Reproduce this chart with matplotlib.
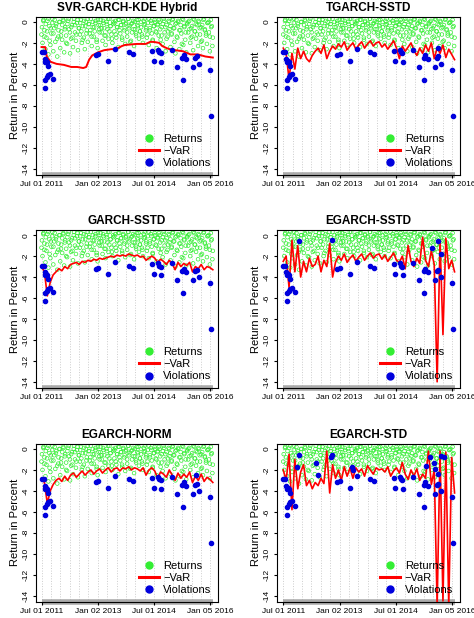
import matplotlib
matplotlib.use("Agg")
import matplotlib.pyplot as plt
import matplotlib.transforms as mtransforms
from matplotlib.lines import Line2D
import numpy as np

plt.rcParams['font.family'] = ['Liberation Sans', 'DejaVu Sans']

# ---- data (trading day index 0..1150) ----
tick_pos = [0, 378, 756, 1134]
tick_labels = ["Jul 01 2011", "Jan 02 2013", "Jul 01 2014", "Jan 05 2016"]

returns = [
    -1.2, -2.0, 0.2, -0.8, -2.6, -1.5, 0.1, -3.1, -0.4, -2.2, -1.1, 0.3, -2.8, -0.6, -1.9,
    -0.2, -3.3, -1.4, 0.0, -2.5, -0.9, -1.7, 0.2, -2.9, -0.5, -1.3, -2.1, 0.1, -0.7, -3.0,
    -1.6, -0.3, -2.4, 0.3, -1.0, -1.8, -0.1, -2.7, -0.6, -1.2, 0.2, -2.0, -0.4, -1.5, -2.6,
    0.0, -0.8, -1.9, -0.2, -1.1, 0.3, -2.3, -0.5, -1.4, -0.9, 0.1, -1.7, -2.5, -0.3, -1.0,
    0.2, -0.6, -1.8, -0.1, -1.3, -2.2, 0.0, -0.7, -1.6, 0.3, -0.4, -1.2, -2.0, -0.2, -0.9,
    0.1, -1.5, -0.5, -2.4, 0.2, -1.1, -0.3, -1.7, 0.0, -0.8, -2.1, -0.1, -1.4, 0.3, -0.6,
    -1.9, -0.2, -1.0, 0.1, -2.3, -0.7, -1.3, 0.2, -0.4, -1.6, -0.9, 0.0, -1.2, -2.0, -0.3,
    0.3, -0.8, -1.5, -0.1, -2.2, -0.6, 0.1, -1.1, -1.8, -0.4, 0.2, -0.9, -2.5, -0.2, -1.3,
    0.0, -1.7, -0.5, -2.1, 0.3, -1.0, -2.8, -0.3, -1.4, 0.1, -0.7, -2.4, -1.2, 0.2, -0.6,
    -1.9, -3.0, -0.1, -1.5, 0.0, -2.6, -0.8, -1.1, 0.3, -2.2, -0.4, -1.7, -2.9, -0.2, -1.0,
    0.1, -2.0, -0.6, -1.4, -2.7, 0.2, -0.9, -1.6, -0.3, -2.3, 0.0, -1.2, -0.5, -1.8, -2.5,
    0.3, -0.7, -1.3, -2.1, -0.1, -1.0, -2.8, 0.2, -0.4, -1.5,
]
returns_b = [
    -0.5, 0.1, -1.4, -0.2, -0.9, 0.3, -1.8, -0.6, -0.1, -1.1, 0.2, -0.4, -1.6, -0.8, 0.0,
    -1.3, -0.3, 0.1, -0.7, -2.0, -0.2, 0.3, -1.0, -0.5, -1.5, 0.0, -0.3, -1.2, 0.2, -0.6,
    -0.1, -0.9, -1.7, 0.1, -0.4, -1.1, 0.3, -0.2, -0.8, -1.4, 0.0, -0.5, -0.1, -1.9, 0.2,
    -0.7, -0.3, -1.0, 0.1, -0.6, -1.3, -0.2, 0.3, -0.9, -0.4, -1.6, 0.0, -0.1, -1.2, -0.5,
    0.2, -0.8, -0.3, -1.5, 0.1, -0.6, -0.2, -1.0, 0.3, -0.4, -1.8, -0.1, -0.7, 0.0, -1.1,
    -0.3, 0.2, -0.9, -0.5, -1.4, 0.1, -0.2, -0.6, -1.2, 0.3, -0.8, -0.1, -1.7, -0.4, 0.0,
    -1.0, -0.3, 0.2, -0.7, -1.3, -0.2, 0.1, -0.5, -1.6, -0.9, 0.0, -0.4, -1.1, 0.3, -0.6,
    -0.2, -1.4, 0.1, -0.8, -0.3, -2.1, 0.2, -0.5, -1.0, -0.1, 0.0, -0.7, -1.5, -0.4, 0.3,
    -0.9, -0.2, -1.2, 0.1, -0.6, -1.9, -0.3, 0.2, -0.8, -1.1, -0.1, 0.0, -1.4, -0.5, -2.3,
]

viol_idx = [0, 15, 21, 25, 32, 40, 46, 25, 36, 46, 57, 25, 78, 363, 380, 447, 494, 585,
            612, 743, 753, 785, 789, 800, 802, 874, 912, 943, 947, 954, 971, 1017, 1032,
            1042, 1059, 1133, 1139]
viol_val = [-2.9, -2.9, -3.5, -3.8, -3.7, -3.8, -4.2, -5.5, -5.3, -5.1, -5.0, -6.3, -5.4,
            -3.2, -3.1, -3.7, -2.6, -2.9, -3.1, -2.8, -3.7, -2.7, -2.9, -3.0, -3.8, -2.7,
            -4.3, -3.4, -5.5, -3.2, -3.5, -4.3, -3.4, -3.3, -4.0, -4.6, -9.0]

hyb_idx = [0, 25, 35, 60, 100, 150, 200, 240, 280, 300, 320, 340, 380, 420, 470, 500, 540,
           560, 640, 700, 730, 750, 790, 810, 840, 860, 900, 950, 1000, 1050, 1100, 1150]
hyb_var = [-2.4, -2.4, -3.3, -3.8, -4.0, -4.1, -4.3, -4.3, -4.4, -4.3, -3.6, -3.2, -2.9, -2.7,
           -2.6, -2.6, -2.3, -2.2, -2.1, -2.1, -1.9, -1.9, -2.0, -2.3, -2.5, -2.6, -2.7, -2.8,
           -3.1, -3.1, -3.3, -3.4]

tgarch_sstd = [-2.5, -3.0, -5.5, -3.0, -4.5, -2.5, -3.5, -2.8, -3.5, -3.8, -3.2, -2.8, -2.5, -3.0,
               -2.2, -3.5, -2.8, -2.3, -2.6, -2.1, -2.4, -1.9, -2.7, -2.3, -2.0, -2.6, -2.2, -1.9,
               -2.5, -2.1, -1.8, -2.3, -2.0, -1.9, -2.4, -2.1, -2.6, -2.2, -1.8, -2.5, -3.5, -2.3,
               -2.8, -2.4, -2.0, -2.7, -3.2, -2.5, -3.0, -2.2, -2.8, -2.0, -3.5, -2.5, -3.0, -2.2,
               -3.4, -2.6, -3.1, -3.6]
garch_sstd = [-3.0, -3.5, -5.8, -4.5, -3.8, -3.5, -3.2, -3.4, -3.0, -3.2, -2.8, -2.7, -2.6, -2.8,
              -2.5, -2.6, -2.4, -2.5, -2.3, -2.4, -2.2, -2.3, -2.2, -2.1, -2.0, -2.1, -1.9, -2.0,
              -1.9, -2.0, -1.8, -1.9, -2.0, -1.9, -2.1, -2.0, -2.4, -2.2, -2.0, -2.2, -2.6, -2.3,
              -2.5, -2.8, -2.4, -2.7, -3.3, -2.6, -3.0, -2.7, -2.9, -2.6, -3.5, -3.0, -3.2, -2.8,
              -3.3, -3.0, -3.1, -3.3]
egarch_sstd = [-2.5, -2.0, -5.0, -0.5, -3.5, -1.0, -4.0, -2.5, -3.5, -2.2, -3.0, -2.8, -2.0, -3.5,
               -2.4, -3.0, -0.8, -4.0, -2.6, -2.0, -2.4, -1.8, -2.6, -2.2, -1.9, -2.5, -2.1, -1.8,
               -2.4, -2.0, -1.7, -2.2, -1.9, -1.8, -2.3, -1.9, -2.5, -2.1, -1.7, -2.4, -2.6, -2.0,
               -3.2, -1.0, -2.5, -3.0, -2.2, -2.7, -0.2, -2.4, -3.0, -1.5, -2.8, -14.0, -0.5, -9.5,
               -0.3, -3.2, -2.4, -3.5]
egarch_norm = [-2.8, -3.2, -5.2, -4.0, -3.4, -3.0, -2.8, -3.1, -2.6, -3.0, -2.5, -2.3, -2.7, -2.4,
               -2.1, -2.5, -2.2, -2.0, -2.4, -2.1, -1.9, -2.3, -2.0, -1.8, -2.2, -1.9, -1.8, -2.1,
               -1.8, -1.9, -1.7, -2.0, -1.8, -1.9, -2.1, -1.8, -2.5, -2.0, -1.8, -2.1, -2.8, -2.2,
               -2.4, -2.7, -2.0, -2.5, -3.0, -2.3, -2.8, -2.4, -2.7, -2.2, -3.2, -2.6, -3.0, -2.4,
               -3.1, -2.7, -2.9, -3.2]
egarch_std = [-2.0, -3.0, -0.5, -5.8, -1.0, -3.8, -2.2, -1.5, -3.5, -3.0, -3.8, -3.2, -3.5, -2.8,
              -3.3, -0.2, -4.2, -1.5, -2.8, -2.0, -3.0, -1.7, -2.6, -1.8, -2.8, -1.8, -2.2, -1.9,
              -2.6, -1.6, -2.0, -2.4, -1.8, -2.0, -1.9, -2.2, -1.7, -2.6, -2.1, -1.8, -2.3, -1.3,
              -2.4, -2.9, -2.0, -2.6, -1.9, -3.0, -2.4, -2.8, -0.2, -3.4, -2.0, -15.0, -0.2, -14.5,
              -0.3, -15.0, -0.8, -4.2]

extra_sstd_idx = [105, 330, 1000, 1040, 1060]
extra_sstd_val = [-0.6, -0.5, -1.2, -0.6, -1.8]
extra_std_idx = [95, 105, 220, 235, 320, 330, 460, 470, 960, 985, 1010, 1020, 1040, 1060, 1080]
extra_std_val = [-1.7, -0.6, -1.3, -2.5, -0.8, -0.6, -1.7, -2.0, -1.6, -0.8, -1.3, -1.9, -2.4, -0.7, -0.8]

titles = ["SVR-GARCH-KDE Hybrid", "TGARCH-SSTD", "GARCH-SSTD", "EGARCH-SSTD",
          "EGARCH-NORM", "EGARCH-STD"]

n_end = 1150
ret_x = np.concatenate([np.linspace(0, n_end, len(returns)),
                        np.linspace(3, n_end - 3, len(returns_b))])
ret_y = returns + returns_b
var_x = np.linspace(0, n_end, len(tgarch_sstd))

panels = [
    (hyb_idx, hyb_var, [], []),
    (var_x, tgarch_sstd, [1040], [-2.5]),
    (var_x, garch_sstd, [], []),
    (var_x, egarch_sstd, extra_sstd_idx, extra_sstd_val),
    (var_x, egarch_norm, [1040], [-2.5]),
    (var_x, egarch_std, extra_std_idx, extra_std_val),
]

fig = plt.figure(figsize=(4.74, 6.18), dpi=100)
lefts = [0.075, 0.585]
bottoms = [0.717, 0.372, 0.026]
for k, (vx, vy, ex, ey) in enumerate(panels):
    ax = fig.add_axes([lefts[k % 2], bottoms[k // 2], 0.385, 0.256])
    for g in np.arange(0, n_end + 1, 63):
        ax.axvline(g, color='#cccccc', ls=':', lw=0.7, zorder=0)
    ax.scatter(ret_x, ret_y, s=7, facecolors='none', edgecolors='#33ee33', lw=0.5, zorder=2)
    ax.plot(vx, vy, color='red', lw=1.4 if k == 0 else 1.2, zorder=3)
    ax.scatter(viol_idx + list(ex), viol_val + list(ey), s=9, color='#0000dd', zorder=4)
    ax.set_xlim(-40, 1185)
    ax.set_ylim(-14.6, 0.5)
    ax.set_yticks(np.arange(-14, 1, 2))
    ax.set_yticklabels([str(v) for v in range(-14, 1, 2)], rotation=90, va='center', fontsize=6)
    ax.set_xticks(tick_pos)
    ax.set_xticklabels(tick_labels, fontsize=6)
    ax.tick_params(length=2.5, pad=2)
    ax.set_title(titles[k], fontsize=8.5, fontweight='bold', pad=4)
    ax.set_ylabel("Return in Percent", fontsize=8, labelpad=2)
    trans = mtransforms.blended_transform_factory(ax.transData, ax.transAxes)
    ax.plot([0, n_end], [0.0, 0.0], transform=trans, color='#aaaaaa', lw=4,
            solid_capstyle='butt', clip_on=False, zorder=1)
    handles = [Line2D([], [], marker='o', ls='none', color='#33ee33', markersize=5),
               Line2D([], [], color='red', lw=2.2),
               Line2D([], [], marker='o', ls='none', color='#0000dd', markersize=5)]
    ax.legend(handles, ["Returns", "\u2212VaR", "Violations"], loc='lower right', frameon=False,
              fontsize=8, handlelength=1.8, borderaxespad=0.2, labelspacing=0.2, handletextpad=0.4)

fig.savefig("out.png", dpi=100)
